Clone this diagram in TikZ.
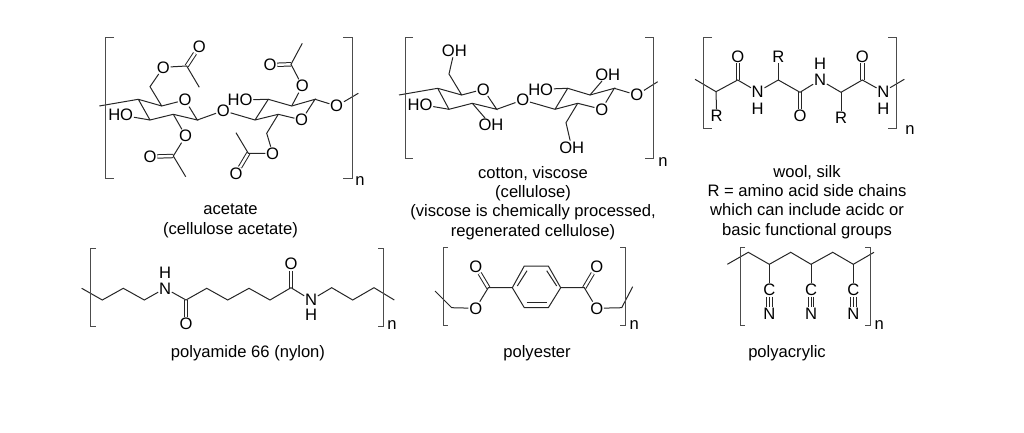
\documentclass[tikz,border=0pt]{standalone}
\usepackage{fontspec}
\setmainfont{Liberation Sans}
\usetikzlibrary{positioning}
\tikzset{
    atom/.style = {inner sep=0.6pt,font=\fontsize{16.6}{16.6}\selectfont},
    mycap/.style = {inner sep=0pt,align=center,font=\fontsize{16.6}{19.3}\selectfont},
    edgen/.style = {line width=1pt,black!85},
    edged/.style = {edgen,double,double distance=2.4pt}, % C=O
    edget/.style = {edgen,double,double distance=4.6pt}, % nitrile, outer lines
    brk/.style = {line width=1pt,black!70},
}
\begin{document}
\begin{tikzpicture}[x=1pt,y=-1pt]
\useasboundingbox (0,0) rectangle (1024,433);

% acetate
\coordinate (a1) at (99.3,106);
\coordinate (a2) at (138.3,99.3);
\coordinate (a3) at (161.7,106);
\node[atom] at (185,100) (a4) {O};
\coordinate (a5) at (197.3,120);
\coordinate (a6) at (173.3,114.3);
\coordinate (a7) at (150,120);
\node[atom] at (120.7,115) (a8) {HO};
\coordinate (a9) at (150,86.7);
\node[atom] at (163.3,67.3) (a10) {O};
\coordinate (a11) at (186.7,66);
\node[atom] at (199.3,46.7) (a12) {O};
\coordinate (a13) at (199.3,87.3);
\node[atom] at (185.7,136) (a14) {O};
\coordinate (a15) at (173.3,156);
\node[atom] at (150,156.7) (a16) {O};
\coordinate (a17) at (185.7,176.7);
\node[atom] at (223.3,110.7) (a18) {O};
\coordinate (a19) at (255,120);
\coordinate (a20) at (278.3,114.3);
\node[atom] at (301.7,120) (a21) {O};
\coordinate (a22) at (315,99.3);
\coordinate (a23) at (291.7,106);
\coordinate (a24) at (268.3,99.3);
\node[atom] at (240,100) (a25) {HO};
\node[atom] at (302.3,86) (a26) {O};
\coordinate (a27) at (291,64.3);
\node[atom] at (270,65) (a28) {O};
\coordinate (a29) at (302.3,43.3);
\node[atom] at (336.7,106) (a30) {O};
\coordinate (a31) at (358.3,93.3);
\coordinate (a32) at (266.7,133.3);
\node[atom] at (272.7,153.3) (a33) {O};
\coordinate (a34) at (248.3,153.3);
\node[atom] at (236,174) (a35) {O};
\coordinate (a36) at (236,132.7);
\draw[edged] (a11) -- (a12);
\draw[edged] (a15) -- (a16);
\draw[edged] (a27) -- (a28);
\draw[edged] (a34) -- (a35);
\draw[edgen] (a1) -- (a2) -- (a3) -- (a4) -- (a5) -- (a6) -- (a7) -- (a2);
\draw[edgen] (a7) -- (a8);
\draw[edgen] (a3) -- (a9) -- (a10) -- (a11) -- (a13);
\draw[edgen] (a6) -- (a14) -- (a15) -- (a17);
\draw[edgen] (a5) -- (a18) -- (a19) -- (a20) -- (a21) -- (a22) -- (a23) -- (a24) -- (a19);
\draw[edgen] (a24) -- (a25);
\draw[edgen] (a23) -- (a26) -- (a27) -- (a29);
\draw[edgen] (a22) -- (a30) -- (a31);
\draw[edgen] (a20) -- (a32) -- (a33) -- (a34) -- (a36);
\draw[brk] (114,38) -- (105,38) -- (105,178) -- (114,178);
\draw[brk] (343,38) -- (352,38) -- (352,178) -- (343,178);
\node[atom] at (360,181) (an) {n};
\node[mycap] at (230.5,221) (acap) {acetate\\(cellulose acetate)};

% cotton
\coordinate (b1) at (399,95);
\coordinate (b2) at (437.7,88.3);
\coordinate (b3) at (461.7,95);
\node[atom] at (483.3,89.3) (b4) {O};
\coordinate (b5) at (496.7,109.3);
\coordinate (b6) at (472.3,103.3);
\coordinate (b7) at (449,109.3);
\node[atom] at (420,104.3) (b8) {HO};
\node[atom] at (491,125) (b9) {OH};
\coordinate (b10) at (449,74);
\node[atom] at (454.3,50.7) (b11) {OH};
\node[atom] at (522.7,100) (b12) {O};
\coordinate (b13) at (555,109.3);
\coordinate (b14) at (577.7,103.3);
\node[atom] at (601.7,109.3) (b15) {O};
\coordinate (b16) at (614.3,88.3);
\coordinate (b17) at (590,95);
\coordinate (b18) at (567.7,88.3);
\node[atom] at (540.7,89.3) (b19) {HO};
\node[atom] at (607.7,74.3) (b20) {OH};
\node[atom] at (636.7,95) (b21) {O};
\coordinate (b22) at (657.7,81.7);
\coordinate (b23) at (566,122.7);
\node[atom] at (571.7,147.3) (b24) {OH};
\draw[edgen] (b1) -- (b2) -- (b3) -- (b4) -- (b5) -- (b6) -- (b7) -- (b2);
\draw[edgen] (b7) -- (b8);
\draw[edgen] (b6) -- (b9);
\draw[edgen] (b3) -- (b10) -- (b11);
\draw[edgen] (b5) -- (b12) -- (b13) -- (b14) -- (b15) -- (b16) -- (b17) -- (b18) -- (b13);
\draw[edgen] (b18) -- (b19);
\draw[edgen] (b17) -- (b20);
\draw[edgen] (b16) -- (b21) -- (b22);
\draw[edgen] (b14) -- (b23) -- (b24);
\draw[brk] (413,38) -- (405,38) -- (405,158) -- (413,158);
\draw[brk] (645,38) -- (653,38) -- (653,158) -- (645,158);
\node[atom] at (663,162) (bn) {n};
\node[mycap] at (533,203) (bcap) {cotton, viscose\\(cellulose)\\(viscose is chemically processed,\\regenerated cellulose)};

% wool
\coordinate (w1) at (695,79.3);
\coordinate (w2) at (716,91.7);
\node[atom] at (716.7,116) (w3) {R};
\coordinate (w4) at (737.7,80);
\node[atom] at (737.7,56.7) (w5) {O};
\node[atom] at (757.7,91.7) (w6) {N};
\node[atom] at (757.7,108.3) (w7) {H};
\coordinate (w8) at (778.3,80);
\node[atom] at (778.3,56.7) (w9) {R};
\coordinate (w10) at (800,92.3);
\node[atom] at (800,116) (w11) {O};
\node[atom] at (820,80) (w12) {N};
\node[atom] at (820,64) (w13) {H};
\coordinate (w14) at (841,92.3);
\node[atom] at (841,117.3) (w15) {R};
\coordinate (w16) at (862.3,80);
\node[atom] at (862.3,56.7) (w17) {O};
\node[atom] at (883.3,91.7) (w18) {N};
\node[atom] at (883.3,108.3) (w19) {H};
\coordinate (w20) at (904.3,79.3);
\draw[edged] (w4) -- (w5);
\draw[edged] (w10) -- (w11);
\draw[edged] (w16) -- (w17);
\draw[edgen] (w1) -- (w2) -- (w4) -- (w6) -- (w8) -- (w10) -- (w12) -- (w14) -- (w16) -- (w18) -- (w20);
\draw[edgen] (w2) -- (w3);
\draw[edgen] (w8) -- (w9);
\draw[edgen] (w14) -- (w15);
\draw[brk] (712,38) -- (703.3,38) -- (703.3,128) -- (712,128);
\draw[brk] (888,38) -- (896.7,38) -- (896.7,128) -- (888,128);
\node[atom] at (910,130) (wn) {n};
\node[mycap] at (807,202) (wcap) {wool, silk\\R = amino acid side chains\\which can include acidc or\\basic functional groups};

% nylon
\coordinate (p1) at (81.7,288.3);
\coordinate (p2) at (102.3,300);
\coordinate (p3) at (123.3,288.3);
\coordinate (p4) at (144.3,300);
\node[atom] at (165,288.3) (p5) {N};
\node[atom] at (165,272.3) (p6) {H};
\coordinate (p7) at (186,300);
\node[atom] at (186,324) (p8) {O};
\coordinate (p9) at (206.7,288.3);
\coordinate (p10) at (227.7,300);
\coordinate (p11) at (249,288.3);
\coordinate (p12) at (270,300);
\coordinate (p13) at (291,287.7);
\node[atom] at (291,264) (p14) {O};
\node[atom] at (311,300) (p15) {N};
\node[atom] at (311,315) (p16) {H};
\coordinate (p17) at (331.7,287.7);
\coordinate (p18) at (352.7,300);
\coordinate (p19) at (374,287.7);
\coordinate (p20) at (394.3,300);
\draw[edged] (p7) -- (p8);
\draw[edged] (p13) -- (p14);
\draw[edgen] (p1) -- (p2) -- (p3) -- (p4) -- (p5) -- (p7) -- (p9) -- (p10) -- (p11) -- (p12) -- (p13) -- (p15) -- (p17) -- (p18) -- (p19) -- (p20);
\draw[brk] (96,248) -- (90.7,248) -- (90.7,326) -- (96,326);
\draw[brk] (378,248) -- (383,248) -- (383,326) -- (378,326);
\node[atom] at (392,325) (pn) {n};
\node[mycap] at (248,353.5) (pcap) {polyamide 66 (nylon)};

% polyester
\coordinate (e1) at (435,291);
\coordinate (e2) at (451.7,307.7);
\node[atom] at (475.7,308.3) (e3) {O};
\coordinate (e4) at (488.3,287.7);
\node[atom] at (475.7,266.7) (e5) {O};
\coordinate (e6) at (512.3,287.7);
\coordinate (e7) at (524.3,266);
\coordinate (e8) at (548.3,266);
\coordinate (e9) at (560.7,287.7);
\coordinate (e10) at (548.3,307.7);
\coordinate (e11) at (524.3,307.7);
\coordinate (e12) at (584.3,287.7);
\node[atom] at (596.7,266.7) (e13) {O};
\node[atom] at (596.7,308.3) (e14) {O};
\coordinate (e15) at (621.7,307.7);
\coordinate (e16) at (632.7,286.7);
\coordinate (e17) at (517.3,286);
\coordinate (e18) at (527,270.7);
\coordinate (e19) at (546.7,270.7);
\coordinate (e20) at (556.7,286);
\coordinate (e21) at (526.7,302.7);
\coordinate (e22) at (546.7,302.7);
\draw[edged] (e4) -- (e5);
\draw[edged] (e12) -- (e13);
\draw[edgen] (e1) -- (e2) -- (e3) -- (e4) -- (e6) -- (e7) -- (e8) -- (e9) -- (e10) -- (e11) -- (e6);
\draw[edgen] (e9) -- (e12) -- (e14) -- (e15) -- (e16);
\draw[edgen] (e17) -- (e18);
\draw[edgen] (e19) -- (e20);
\draw[edgen] (e21) -- (e22);
\draw[brk] (448,247.3) -- (443.3,247.3) -- (443.3,325.7) -- (448,325.7);
\draw[brk] (620,247.3) -- (625,247.3) -- (625,325.7) -- (620,325.7);
\node[atom] at (634.3,325) (en) {n};
\node[mycap] at (537,353.5) (ecap) {polyester};

% polyacrylic
\coordinate (y1) at (727.3,264.3);
\coordinate (y2) at (748.3,252.3);
\coordinate (y3) at (769.3,264.3);
\coordinate (y4) at (790.7,252.3);
\coordinate (y5) at (811,264.3);
\coordinate (y6) at (832.7,252.3);
\coordinate (y7) at (853.3,264.3);
\coordinate (y8) at (874,252.3);
\node[atom] at (769.3,290) (y9) {C};
\node[atom] at (769.3,314) (y10) {N};
\node[atom] at (811,290) (y11) {C};
\node[atom] at (811,314) (y12) {N};
\node[atom] at (853.3,290) (y13) {C};
\node[atom] at (853.3,314) (y14) {N};
\draw[edgen] (y1) -- (y2) -- (y3) -- (y4) -- (y5) -- (y6) -- (y7) -- (y8);
\draw[edgen] (y3) -- (y9);
\draw[edgen] (y5) -- (y11);
\draw[edgen] (y7) -- (y13);
\draw[edget] (y9) -- (y10);
\draw[edgen] (y9) -- (y10);
\draw[edget] (y11) -- (y12);
\draw[edgen] (y11) -- (y12);
\draw[edget] (y13) -- (y14);
\draw[edgen] (y13) -- (y14);
\draw[brk] (745,247.3) -- (740,247.3) -- (740,325.7) -- (745,325.7);
\draw[brk] (865,247.3) -- (870,247.3) -- (870,325.7) -- (865,325.7);
\node[atom] at (879.3,325) (yn) {n};
\node[mycap] at (787,353.5) (ycap) {polyacrylic};

\end{tikzpicture}
\end{document}
